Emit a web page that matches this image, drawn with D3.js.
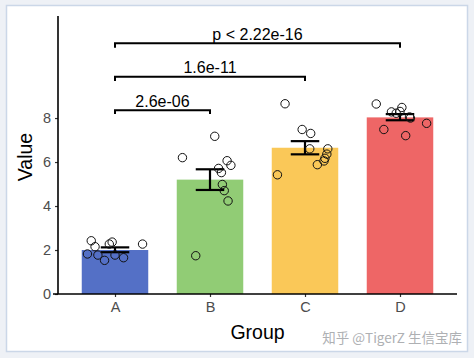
<!DOCTYPE html>
<html><head><meta charset="utf-8">
<script src="https://cdn.jsdelivr.net/npm/d3@7"></script>
<style>
html,body{margin:0;padding:0;background:#eef1f6;}
svg{display:block;}
</style></head>
<body>
<svg id="chart" width="474" height="358"></svg>
<script>
// ---- data ----
const groups = ["A", "B", "C", "D"];
const means = [2.0, 5.2, 6.65, 8.03];
const seLow = [1.9, 4.73, 6.35, 7.9];
const seHigh = [2.12, 5.67, 6.95, 8.18];
const colors = ["#5470c6", "#91cc75", "#fac858", "#ee6666"];
const pointsA = [2.42, 2.15, 1.82, 1.77, 1.53, 2.27, 2.36, 1.77, 1.65, 2.27];
const pointsB = [6.2, 7.17, 5.71, 5.52, 6.06, 5.85, 4.98, 4.7, 4.23, 1.74];
const pointsC = [8.65, 7.48, 7.3, 6.6, 6.6, 6.36, 6.17, 6.05, 5.88, 5.42];
const pointsD = [8.64, 8.48, 8.28, 8.22, 8.3, 8.0, 7.76, 7.48, 7.2, 8.05];
// horizontal jitter, in category units
const jitterA = [-0.25, -0.21, -0.29, -0.18, -0.11, -0.06, -0.03, 0.0, 0.09, 0.29];
const jitterB = [-0.29, 0.05, 0.09, 0.12, 0.18, 0.22, 0.13, 0.15, 0.19, -0.15];
const jitterC = [-0.21, -0.03, 0.06, 0.05, 0.24, 0.23, 0.21, 0.2, 0.13, -0.29];
const jitterD = [-0.25, 0.02, -0.09, -0.04, 0.0, 0.11, 0.28, -0.17, 0.06, 0.1];
const yTicks = [0, 2, 4, 6, 8];
const compFrom = ["A", "A", "A"];
const compTo = ["B", "C", "D"];
const compLabels = ["2.6e-06", "1.6e-11", "p < 2.22e-16"];
const compY = [8.36, 9.88, 11.4];
const compTipY = [8.18, 9.68, 11.2];

// ---- layout ----
const svg = d3.select("#chart");
// frame
svg.append("rect").attr("x", 6.5).attr("y", 5.5).attr("width", 461).attr("height", 346)
  .attr("fill", "#ffffff").attr("stroke", "#cbd7e8").attr("stroke-width", 1.5);

const pLeft = 58, pRight = 457, pTop = 16, pBottom = 294;
const y = d3.scaleLinear().domain([0, 12.64]).range([pBottom, pTop]);
const step = (pRight - pLeft) / (groups.length - 1 + 1.2);
const xc = d3.scalePoint().domain(groups).range([pLeft + 0.6 * step, pRight - 0.6 * step]);
const xNum = d3.scaleLinear().domain([0, groups.length - 1]).range([pLeft + 0.6 * step, pRight - 0.6 * step]);
const barW = 0.7 * step;
const errW = 0.3 * step;
const FONT = "Liberation Sans, Arial, Helvetica, sans-serif";

const g = svg.append("g");

// bars
g.selectAll("rect.bar").data(groups).join("rect").attr("class", "bar")
  .attr("x", d => xc(d) - barW / 2)
  .attr("y", (d, i) => y(means[i]))
  .attr("width", barW)
  .attr("height", (d, i) => y(0) - y(means[i]))
  .attr("fill", (d, i) => colors[i]);

// error bars
const eb = g.selectAll("g.err").data(groups).join("g").attr("class", "err")
  .attr("stroke", "#000").attr("stroke-width", 2.2).attr("fill", "none");
eb.append("line").attr("x1", d => xc(d)).attr("x2", d => xc(d))
  .attr("y1", (d, i) => y(seLow[i])).attr("y2", (d, i) => y(seHigh[i]));
eb.append("line").attr("x1", d => xc(d) - errW / 2).attr("x2", d => xc(d) + errW / 2)
  .attr("y1", (d, i) => y(seLow[i])).attr("y2", (d, i) => y(seLow[i]));
eb.append("line").attr("x1", d => xc(d) - errW / 2).attr("x2", d => xc(d) + errW / 2)
  .attr("y1", (d, i) => y(seHigh[i])).attr("y2", (d, i) => y(seHigh[i]));

// points
const allPts = [pointsA, pointsB, pointsC, pointsD];
const allJit = [jitterA, jitterB, jitterC, jitterD];
const pts = [];
allPts.forEach((arr, gi) => arr.forEach((v, j) => pts.push({gi, v, jx: allJit[gi][j]})));
g.selectAll("circle.pt").data(pts).join("circle").attr("class", "pt")
  .attr("cx", d => xNum(d.gi + d.jx))
  .attr("cy", d => y(d.v))
  .attr("r", 4.2)
  .attr("fill", "none").attr("stroke", "#111").attr("stroke-width", 1);

// axes
const yAxis = d3.axisLeft(y).tickValues(yTicks).tickSize(3).tickPadding(4);
const ya = svg.append("g").attr("transform", `translate(${pLeft},0)`).call(yAxis);
ya.select(".domain").remove();
ya.append("line").attr("x1", 0).attr("x2", 0).attr("y1", pTop).attr("y2", pBottom).attr("stroke", "#000").attr("stroke-width", 1.6);
ya.selectAll(".tick line").attr("stroke", "#333").attr("stroke-width", 1.2);
ya.selectAll(".tick text").attr("font-family", FONT)
  .attr("font-size", 14.5).attr("fill", "#4d4d4d");

const xAxis = d3.axisBottom(xc).tickSize(3).tickPadding(5);
const xa = svg.append("g").attr("transform", `translate(0,${pBottom})`).call(xAxis);
xa.select(".domain").remove();
xa.append("line").attr("x1", pLeft - 5).attr("x2", pRight).attr("y1", 0).attr("y2", 0).attr("stroke", "#000").attr("stroke-width", 1.6);
xa.selectAll(".tick line").attr("stroke", "#333").attr("stroke-width", 1.2);
xa.selectAll(".tick text").attr("font-family", FONT)
  .attr("font-size", 14.5).attr("fill", "#4d4d4d");

// comparisons
const comps = compLabels.map((l, i) => ({from: compFrom[i], to: compTo[i], label: l, yv: compY[i], yt: compTipY[i]}));
const cg = svg.selectAll("g.comp").data(comps).join("g").attr("class", "comp");
cg.append("path")
  .attr("d", d => `M${xc(d.from)},${y(d.yt)}V${y(d.yv)}H${xc(d.to)}V${y(d.yt)}`)
  .attr("fill", "none").attr("stroke", "#000").attr("stroke-width", 2);
cg.append("text")
  .attr("x", d => (xc(d.from) + xc(d.to)) / 2)
  .attr("y", d => y(d.yv) - 3.5)
  .attr("text-anchor", "middle")
  .attr("font-family", FONT)
  .attr("font-size", 16).attr("fill", "#000")
  .text(d => d.label);

// axis titles
svg.append("text").attr("transform", `translate(32,${(pTop + pBottom) / 2 + 2}) rotate(-90)`)
  .attr("text-anchor", "middle").attr("font-family", FONT)
  .attr("font-size", 19.5).attr("fill", "#000").text("Value");
svg.append("text").attr("x", (pLeft + pRight) / 2).attr("y", 339)
  .attr("text-anchor", "middle").attr("font-family", FONT)
  .attr("font-size", 19.5).attr("fill", "#000").text("Group");

// watermark
svg.append("text").attr("x", 462).attr("y", 343).attr("text-anchor", "end")
  .attr("font-family", "Noto Sans CJK SC, sans-serif").attr("font-size", 13.5)
  .attr("fill", "#aeb0b3").text("知乎 @TigerZ 生信宝库");
</script>
</body></html>
